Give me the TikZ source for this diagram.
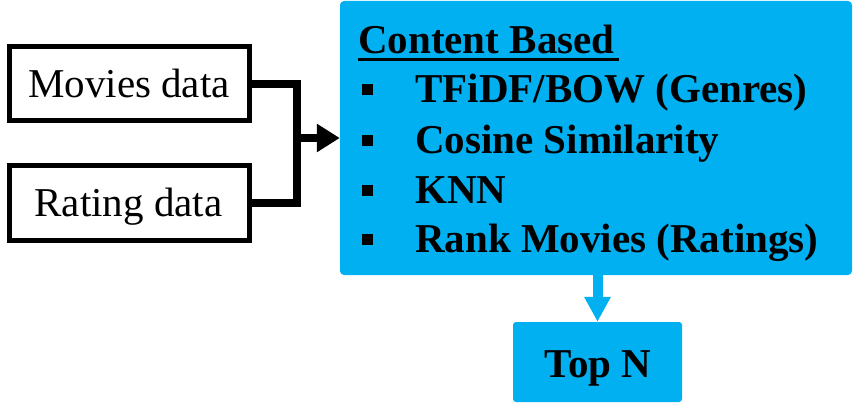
\documentclass[tikz,border=0pt]{standalone}
\usepackage{fontspec}
\setmainfont{Liberation Serif}
\usetikzlibrary{arrows.meta}
\definecolor{cblue}{HTML}{00B0F0}
\begin{document}
\begin{tikzpicture}[x=1pt,y=-1pt,
  inbox/.style={draw,line width=5pt,minimum width=240pt,inner sep=0pt},
  lbl/.style={inner sep=0pt,font=\fontsize{41}{49}\selectfont},
  blbl/.style={inner sep=0pt,font=\fontsize{41}{49}\selectfont\bfseries},
  bluebox/.style={fill=cblue,rounded corners=4pt,inner sep=0pt},
  bul/.style={fill=black,minimum size=11pt,inner sep=0pt},
  conn/.style={line width=8pt,line join=miter}
  ]
\useasboundingbox (0,0) rectangle (856,412);
% input boxes
\node[inbox,minimum height=74pt] (mov) at (129.5,83.5) {};
\node[inbox,minimum height=75pt] (rat) at (129.5,203) {};
\node[lbl,anchor=base] (movt) at (129,97) {Movies data};
\node[lbl,anchor=base] (ratt) at (128.5,216.5) {Rating data};
% content based box
\node[bluebox,minimum width=512pt,minimum height=274pt] (cb) at (596,138) {};
\node[blbl,anchor=base west] (h) at (358,53) {Content Based};
\draw[line width=3pt] ([yshift=-7pt]h.base west) -- ++(261,0);
\node[bul] (b1) at (367.5,89) {};
\node[bul] (b2) at (367.5,140) {};
\node[bul] (b3) at (367.5,190) {};
\node[bul] (b4) at (367.5,239) {};
\node[blbl,anchor=base west] (i1) at (415,102) {TFiDF/BOW (Genres)};
\node[blbl,anchor=base west] (i2) at (415,153) {Cosine Similarity};
\node[blbl,anchor=base west] (i3) at (415,203) {KNN};
\node[blbl,anchor=base west] (i4) at (415,252) {Rank Movies (Ratings)};
% top N
\node[bluebox,rounded corners=3pt,minimum width=169pt,minimum height=80pt] (top) at (597.5,362) {};
\node[blbl,anchor=base] (topt) at (598,377) {Top N};
% connectors
\coordinate (j) at (297,138);
\draw[conn] (mov.east) -| (j) |- (rat.east);
\draw[conn,-{Triangle[length=23pt,width=27pt]}] (j) -- (j -| cb.west);
\draw[cblue,line width=10pt,-{Triangle[length=25pt,width=25pt]}] (top.north |- cb.south) -- (top.north);
\end{tikzpicture}
\end{document}
